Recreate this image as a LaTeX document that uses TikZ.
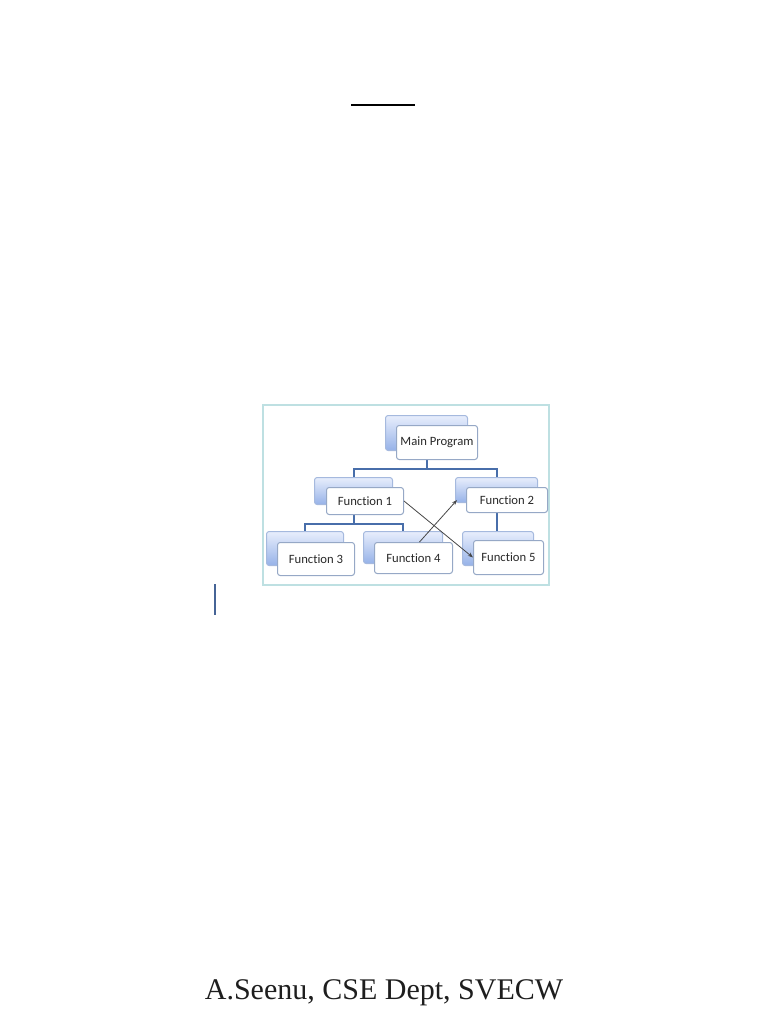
\documentclass[tikz,border=0pt]{standalone}
\usepackage{fontspec}
\usetikzlibrary{arrows.meta}
\newfontfamily\boxfont[Ligatures=NoCommon]{Carlito}
\newfontfamily\footfont{Liberation Serif}

\tikzset{every picture/.style={line width=0.75pt}}
\tikzset{
	backbox/.style 2 args={draw={rgb, 255:red, 165; green, 185; blue, 222}, rounded corners=2pt,
		top color={rgb, 255:red, 232; green, 238; blue, 252}, bottom color={rgb, 255:red, 150; green, 178; blue, 232},
		anchor=north west, inner sep=0pt, minimum width=#1*0.75pt, minimum height=#2*0.75pt},
	frontbox/.style 2 args={draw={rgb, 255:red, 150; green, 168; blue, 198}, fill=white, rounded corners=2pt,
		anchor=north west, inner sep=0pt, text={rgb, 255:red, 40; green, 40; blue, 40},
		font=\boxfont\fontsize{9.5}{11}\selectfont,
		minimum width=#1*0.75pt, minimum height=#2*0.75pt},
	conn/.style={draw={rgb, 255:red, 72; green, 110; blue, 170}, line width=1.5pt},
	link/.style={draw={rgb, 255:red, 70; green, 70; blue, 70}, line width=0.6pt, -{Stealth[length=4pt,width=3pt]}}
}

\begin{document}
\begin{tikzpicture}[x=0.75pt,y=0.75pt,yscale=-1,xscale=1]
				\useasboundingbox (0,0) rectangle (768,1024);
				
				%Straight Lines [id:title]
				\draw [line width=1.5pt] (351,105) -- (415,105) ;
				%Shape: Rectangle [id:frame]
				\draw [draw={rgb, 255:red, 190; green, 224; blue, 226}, line width=1.2pt] (263,405) rectangle (549,585) ;
				
				%Shape: Back boxes
				\node [backbox={82}{35}] (mainb) at (385,415) {};
				\node [backbox={78}{27}] (f1b) at (314,477) {};
				\node [backbox={82}{25}] (f2b) at (455,477) {};
				\node [backbox={77}{34}] (f3b) at (266,531) {};
				\node [backbox={79}{32}] (f4b) at (363,531) {};
				\node [backbox={71}{34}] (f5b) at (462,531) {};
				
				%Connectors
				\draw [conn] (mainb.south) -- ++(0,18) -| (f1b.north) ;
				\draw [conn] (mainb.south) -- ++(0,18) -| (f2b.north) ;
				\draw [conn] (f1b.south) -- ++(0,19) -| (f3b.north) ;
				\draw [conn] (f1b.south) -- ++(0,19) -| (f4b.north) ;
				\draw [conn] (f2b.south) -- (f2b.south |- f5b.north) ;
				
				% Text Node
				\node [frontbox={81}{34}] (main) at (396,425) {Main Program};
				% Text Node
				\node [frontbox={77}{27}] (f1) at (326,487) {Function 1};
				% Text Node
				\node [frontbox={81}{25}] (f2) at (466,487) {Function 2};
				% Text Node
				\node [frontbox={77}{33}] (f3) at (277,542) {Function 3};
				% Text Node
				\node [frontbox={78}{31}] (f4) at (374,542) {Function 4};
				% Text Node
				\node [frontbox={70}{34}] (f5) at (473,540) {Function 5};
				
				%Arrows
				\draw [link] (f1.east) -- (f5.west) ;
				\draw [link] ([xshift=4.5pt]f4.north) -- ([xshift=-6.75pt]f2.west) ;
				
				%Straight Lines [id:cursor]
				\draw [draw={rgb, 255:red, 70; green, 100; blue, 150}, line width=0.9pt] (215,584) -- (215,615) ;
				
				% Text Node
				\node [anchor=base, inner sep=0pt, font=\footfont\fontsize{22.5}{27}\selectfont, color={rgb, 255:red, 30; green, 30; blue, 30}] (footer) at (384,999) {A.Seenu, CSE Dept, SVECW};
			\end{tikzpicture}
\end{document}
